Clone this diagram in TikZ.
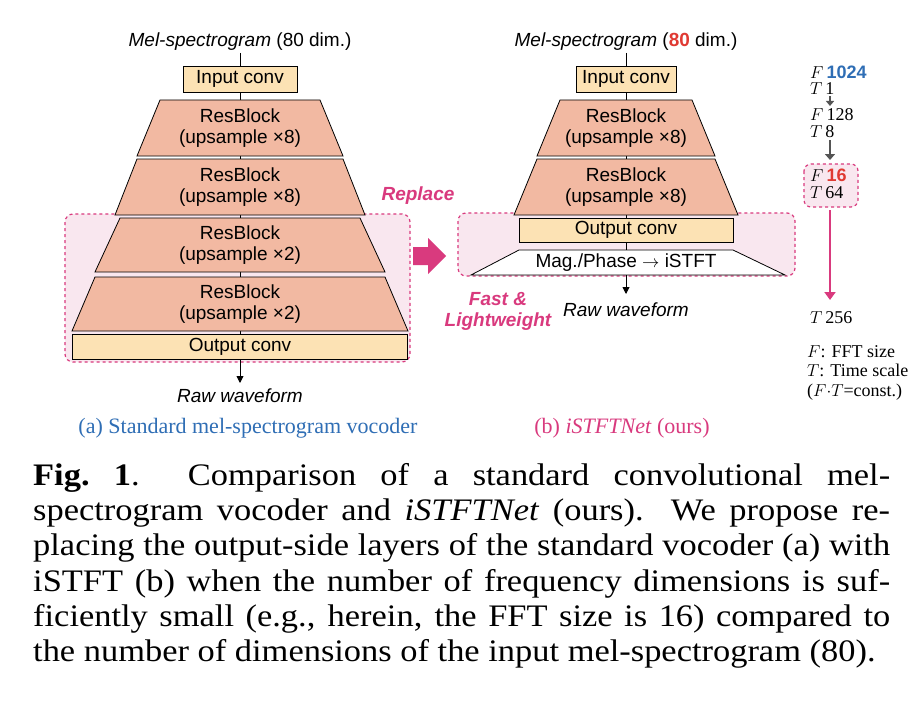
\documentclass[tikz,border=0pt]{standalone}
\usepackage{fontspec}
\setmainfont{Liberation Serif}
\newfontfamily\hv{Liberation Sans}
\newfontfamily\capfont[FakeStretch=1.1]{Liberation Serif}
\usetikzlibrary{arrows.meta}
\definecolor{pk}{HTML}{D93A7E}
\definecolor{pkfill}{HTML}{F9E7EF}
\definecolor{salm}{HTML}{F2B9A2}
\definecolor{cream}{HTML}{FCE2B4}
\definecolor{bl}{HTML}{2F6EB5}
\definecolor{rd}{HTML}{E03A33}
\definecolor{gr}{HTML}{555555}
\tikzset{
 x=1pt,y=-1pt,
 trap/.style={draw=black,line width=0.8pt,fill=salm},
 convbox/.style={draw=black,line width=0.8pt,fill=cream,inner sep=0pt},
 pkbox/.style={draw=pk,dashed,line width=1.2pt,fill=pkfill,rounded corners=8pt},
 lbl/.style={font=\hv\fontsize{19}{20.5}\selectfont,align=center},
 flow/.style={line width=0.9pt,-{Triangle[length=7pt,width=7pt]}},
 mth/.style={font=\fontsize{18}{19}\selectfont,inner sep=0pt,anchor=west},
}
\newcommand{\trapz}[7]{% name, ytop, ybot, top half, bottom half, cx, text
 \draw[trap] (#6-#4,#2)--(#6+#4,#2)--(#6+#5,#3)--(#6-#5,#3)--cycle;
 \node[lbl] (#1) at (#6,{(#2+#3)/2}) {#7};}
\begin{document}
\begin{tikzpicture}
\useasboundingbox (0,0) rectangle (918,706);
\fill[white] (0,0) rectangle (918,706);
% ---------- left
\draw[pkbox] (65,214) rectangle (410,362);
\node[lbl] (lt) at (240,42) {\itshape Mel-spectrogram\upshape{} (80 dim.)};
\draw[line width=0.8pt] (240,53)--(240,100);
\node[convbox,minimum width=114pt,minimum height=26pt,lbl] (lin) at (240,79) {Input conv};
\draw[line width=0.8pt] (240,100)--(240,335);
\trapz{lr1}{100}{156}{80}{103}{240}{ResBlock\\(upsample ×8)}
\trapz{lr2}{159}{215}{103}{125}{240}{ResBlock\\(upsample ×8)}
\trapz{lr3}{218}{272}{120}{145}{240}{ResBlock\\(upsample ×2)}
\trapz{lr4}{277}{331}{145}{168}{240}{ResBlock\\(upsample ×2)}
\node[convbox,minimum width=335pt,minimum height=25pt,lbl] (lout) at (240,347) {Output conv};
\coordinate (lend) at (240,383);
\draw[flow] (lout.south)--(lend);
\node[lbl] (lraw) at (240,396) {\itshape Raw waveform};
\node[font=\fontsize{22}{24}\selectfont,text=bl] (capa) at (248,428) {(a) Standard mel-spectrogram vocoder};
% ---------- right
\draw[pkbox] (458,213) rectangle (795,276);
\node[lbl] (rt) at (626,42) {\itshape Mel-spectrogram\upshape{} (\textcolor{rd}{\bfseries 80} dim.)};
\draw[line width=0.8pt] (626,53)--(626,290);
\node[convbox,minimum width=100pt,minimum height=26pt,lbl] (rin) at (626,79) {Input conv};
\trapz{rr1}{100}{156}{66}{89}{626}{ResBlock\\(upsample ×8)}
\trapz{rr2}{159}{215}{89}{112}{626}{ResBlock\\(upsample ×8)}
\node[convbox,minimum width=214pt,minimum height=24pt,lbl] (rout) at (626,230) {Output conv};
\draw[line width=0.8pt,fill=white] (519,250)--(733,250)--(785,275)--(471,275)--cycle;
\node[lbl] (mag) at (626,263) {Mag./Phase $\rightarrow$ iSTFT};
\coordinate (rend) at (626,294);
\draw[flow] (626,275)--(rend);
\node[lbl] (rraw) at (626,310) {\itshape Raw waveform};
\node[lbl,text=pk,font=\hv\bfseries\itshape\fontsize{19}{21}\selectfont] (fast) at (498,311) {Fast \&\\Lightweight};
\node[lbl,text=pk,font=\hv\bfseries\itshape\fontsize{19}{20}\selectfont] (rep) at (418,196) {Replace};
\fill[pk] (413,247)--(428,247)--(428,238)--(446,256)--(428,274)--(428,265)--(413,265)--cycle;
\node[font=\fontsize{22}{24}\selectfont,text=pk] (capb) at (622,428) {(b) \textit{iSTFTNet} (ours)};
% ---------- scale panel
\draw[pkbox,rounded corners=7pt] (804,164) rectangle (858,207);
\node[mth] (f1) at (810,72) {$F$\,\textcolor{bl}{\hv\bfseries\fontsize{18}{19}\selectfont 1024}};
\node[mth] (t1) at (810,89) {$T$\,1};
\node[mth] (f2) at (810,115) {$F$\,128};
\node[mth] (t2) at (810,132) {$T$\,8};
\node[mth] (f3) at (810,175) {$F$\,\textcolor{rd}{\hv\bfseries\fontsize{18}{19}\selectfont 16}};
\node[mth] (t3) at (810,193) {$T$\,64};
\node[mth] (t4) at (810,318) {$T$\,256};
\draw[gr,line width=2pt,-{Triangle[length=5pt,width=8pt]}] (830,96)--(830,106);
\draw[gr,line width=2.5pt,-{Triangle[length=6pt,width=10pt]}] (830,140)--(830,160);
\draw[pk,line width=2.5pt,-{Triangle[length=8pt,width=11pt]}] (830,210)--(830,300);
\node[mth,anchor=north west,align=left,font=\fontsize{18}{19.5}\selectfont] (leg) at (807,345) {$F$: FFT size\\$T$: Time scale\\($F{\cdot}T$=const.)};
% ---------- caption
\node[anchor=north west,inner sep=0pt,text width=857pt,align=justify,font=\capfont\fontsize{31.3}{35.3}\selectfont] (cap) at (33,463) {\textbf{Fig.\ 1}.\ \ Comparison of a standard convolutional mel-\linebreak spectrogram vocoder and \textit{iSTFTNet} (ours).\ \ We propose re-\linebreak placing the output-side layers of the standard vocoder (a) with\linebreak iSTFT (b) when the number of frequency dimensions is suf-\linebreak ficiently small (e.g., herein, the FFT size is 16) compared to\linebreak the number of dimensions of the input mel-spectrogram (80).};
\end{tikzpicture}
\end{document}
